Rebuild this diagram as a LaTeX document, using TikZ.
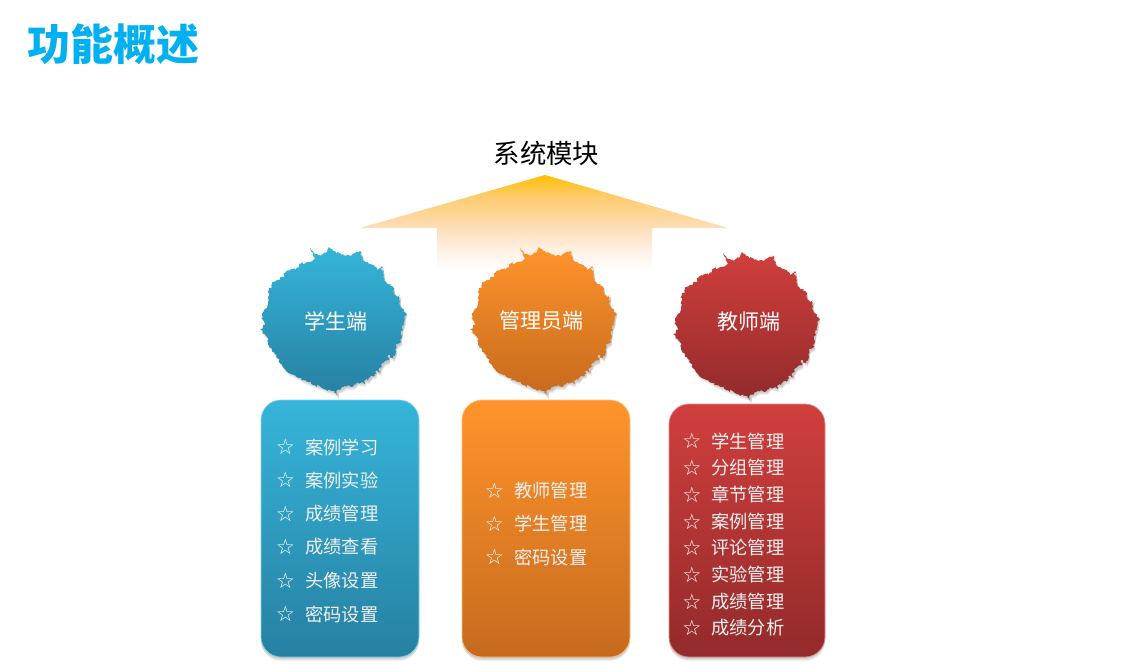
\documentclass[tikz,border=0pt]{standalone}
\usepackage{fontspec}
\newfontfamily\cjk{Noto Sans CJK SC}
\newfontfamily\symf{DejaVu Sans}
\usetikzlibrary{calc,decorations.pathmorphing}
\definecolor{titleblue}{HTML}{00B0F0}
\definecolor{bluetop}{HTML}{36B5DA}\definecolor{bluebot}{HTML}{2680A2}
\definecolor{orgtop}{HTML}{FF942B}\definecolor{orgbot}{HTML}{C66A1E}
\definecolor{redtop}{HTML}{D03F3D}\definecolor{redbot}{HTML}{932A2B}
\definecolor{arA}{HTML}{FFC000}\definecolor{arB}{HTML}{FFCB6B}\definecolor{arC}{HTML}{FDDDB5}\definecolor{arD}{HTML}{FEF0E2}
\pgfdeclareverticalshading{arrowfade}{100bp}{color(0bp)=(white); color(25bp)=(white); color(36bp)=(arD); color(48bp)=(arC); color(64bp)=(arB); color(75bp)=(arA); color(100bp)=(arA)}
\newcommand{\blobpath}{(-23.3,-72.7) -- (-18,-66) -- (-15,-65) -- (-10,-66) -- (-6,-68) -- (-4,-73) -- (-1,-71) -- (2,-69) -- (4,-67) -- (10,-66) -- (13,-64) -- (18,-64) -- (22,-66) -- (27,-69.5) -- (30,-60) -- (34,-58) -- (37,-56) -- (41,-55) -- (44,-50) -- (49,-54) -- (51,-40) -- (55,-36) -- (60,-33) -- (61,-27) -- (64,-24) -- (63,-22) -- (67,-25) -- (66,-17) -- (69,-12) -- (73,-7) -- (71,-3) -- (71,2) -- (69,8) -- (68,15) -- (67,20) -- (68,22) -- (63,25) -- (62,30) -- (63,31) -- (60,38) -- (55,35) -- (56,40) -- (50,43) -- (46,50) -- (48,52) -- (42,51) -- (42,55) -- (38,56) -- (35,60) -- (30,60) -- (32,63) -- (24,62) -- (20,66) -- (12,66) -- (8,69) -- (4,70) -- (4,75) -- (0,71) -- (-5,70) -- (-12,67) -- (-18,65) -- (-25,62) -- (-30,60) -- (-38,55) -- (-45,52) -- (-50,47) -- (-56,36) -- (-58,34) -- (-62,28) -- (-65,22) -- (-66,17) -- (-73,9) -- (-68,5) -- (-70,0) -- (-71,-7) -- (-66,-12) -- (-64,-20) -- (-64,-30) -- (-61,-35) -- (-60,-38) -- (-50,-43) -- (-48,-47) -- (-35,-52) -- (-33,-56) -- (-25,-58) -- (-20,-60) -- (-18,-62) -- cycle}
\tikzset{
  x=0.75pt,y=-0.75pt,
  headtext/.style={inner sep=0pt,text=white,font=\cjk\fontsize{15.75pt}{18pt}\selectfont},
  rowtext/.style={inner sep=0pt,anchor=west,text=white!94!black,font=\cjk\fontsize{13.7pt}{16pt}\selectfont},
  rowstar/.style={inner sep=0pt,text=white,font=\symf\fontsize{16pt}{18pt}\selectfont},
  softshade/.style={fill=black,opacity=0.06,draw=none},
  ragged/.style={decorate,decoration={random steps,segment length=1.2pt,amplitude=1pt}},
}
\newcommand{\blob}[4]{%
  \foreach \d in {1,2,3,4}{\path[softshade,shift={(#2+1.5,#3+\d)}] \blobpath;}
  \pgfmathsetseed{1234}%
  \path[shift={(#2,#3)},top color=#1top,bottom color=#1bot,draw=none,ragged] \blobpath;
  \coordinate (#4) at (#2,#3);}
\newcommand{\panel}[5]{%
  \foreach \d in {1,2,3,4}{\path[softshade,rounded corners=15pt] (#2,#3+\d) rectangle (#4,#5+\d);}
  \path[top color=#1top,bottom color=#1bot,draw=#1top!60!white,line width=0.5pt,rounded corners=15pt] (#2,#3) rectangle (#4,#5);}
\begin{document}
\begin{tikzpicture}
\useasboundingbox (0,0) rectangle (1122,664);
\fill[white] (0,0) rectangle (1122,664);
\node[inner sep=0pt,text=titleblue,font=\cjk\bfseries\fontsize{32.2pt}{36pt}\selectfont] (title) at (113.5,44) {功能概述};
\node[inner sep=0pt,text=black,font=\cjk\fontsize{19.8pt}{22pt}\selectfont] (sys) at (546.5,153) {系统模块};
\path[shading=arrowfade,draw=none]
  (545,175) -- (728,228) -- (652,228) -- (652,270) -- (437,270) -- (437,228) -- (360,228) -- cycle;
\blob{blue}{333}{320}{b1}
\blob{org}{543}{320}{b2}
\blob{red}{746}{325}{b3}
\node[headtext] (h1) at (336,321) {学生端};
\node[headtext] (h2) at (541,321) {管理员端};
\node[headtext] (h3) at (749,321.5) {教师端};
\panel{blue}{261}{400}{419}{657}
\panel{org}{462}{400}{630}{657}
\panel{red}{669}{404}{825}{657}
\foreach \y/\t [count=\i] in {447/案例学习,480/案例实验,513.5/成绩管理,547/成绩查看,580.5/头像设置,614/密码设置}{
  \node[rowstar] (sa\i) at (285.5,\y) {☆};
  \node[rowtext] (ta\i) at (305,\y) {\t};}
\foreach \y/\t [count=\i] in {490.5/教师管理,523.5/学生管理,557/密码设置}{
  \node[rowstar] (sb\i) at (494.5,\y) {☆};
  \node[rowtext] (tb\i) at (514,\y) {\t};}
\foreach \y/\t [count=\i] in {441/学生管理,468/分组管理,494.5/章节管理,521.5/案例管理,548/评论管理,574.5/实验管理,601.5/成绩管理,628/成绩分析}{
  \node[rowstar] (sc\i) at (692,\y) {☆};
  \node[rowtext] (tc\i) at (711,\y) {\t};}
\end{tikzpicture}
\end{document}
